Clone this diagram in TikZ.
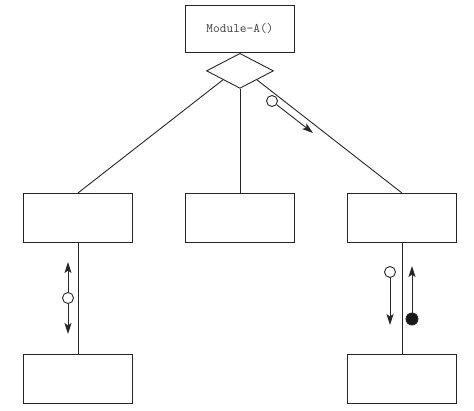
\documentclass[tikz,border=0pt]{standalone}
\usetikzlibrary{shapes.geometric,arrows.meta}
\begin{document}
\begin{tikzpicture}[x=1pt,y=-1pt,
  box/.style={draw=black!85,line width=0.9pt,minimum width=109pt,minimum height=49pt,inner sep=0pt,anchor=north west},
  conn/.style={draw=black!85,line width=0.9pt},
  oc/.style={circle,draw=black!85,line width=0.9pt,fill=white,minimum size=11pt,inner sep=0pt},
  fc/.style={circle,draw=black!85,line width=0.9pt,fill=black!90,minimum size=12pt,inner sep=0pt},
  arr/.style={draw=black!85,line width=0.9pt,-{Stealth[length=11pt,width=7pt,inset=2.5pt]}}]
\useasboundingbox (0,0) rectangle (474,410);
\node[box,minimum height=47pt,text=black!75] (top) at (185,5) {\ttfamily\fontsize{13}{15}\selectfont Module-A()};
\node[diamond,draw=black!85,line width=0.9pt,minimum width=67pt,minimum height=35pt,inner sep=0pt,anchor=north] (dia) at (top.south) {};
\node[box] (l1) at (23,193) {};
\node[box] (m1) at (185,193) {};
\node[box] (r1) at (347,193) {};
\node[box] (l2) at (23,354) {};
\node[box] (r2) at (347,354) {};
\draw[conn] (dia.south west) -- (l1.north);
\draw[conn] (dia.south) -- (m1.north);
\draw[conn] (dia.south east) -- (r1.north);
\draw[conn] (l1.south) -- (l2.north);
\draw[conn] (r1.south) -- (r2.north);
% left arrows
\node[oc] (lc) at (68,298) {};
\coordinate (lup) at (68,262);
\coordinate (ldn) at (68,334);
\draw[arr] (lc) -- (lup);
\draw[arr] (lc) -- (ldn);
% right arrows
\node[oc] (rc) at (390,272) {};
\coordinate (rdn) at (390,325);
\draw[arr] (rc) -- (rdn);
\node[fc] (rf) at (412,319) {};
\coordinate (rup) at (412,266);
\draw[arr] (rf) -- (rup);
% diagonal arrow
\node[oc] (dc) at (272,101) {};
\coordinate (dend) at (313,133);
\draw[arr] (dc) -- (dend);
\end{tikzpicture}
\end{document}
